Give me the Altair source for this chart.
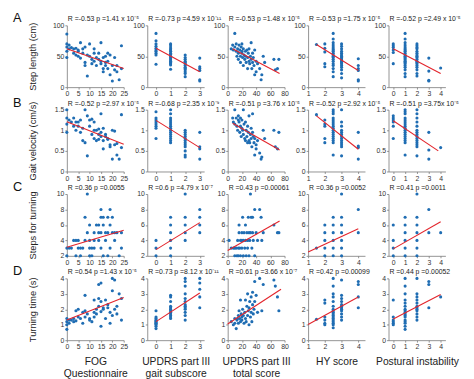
import altair as alt
import pandas as pd

FONT = "Liberation Sans"
BLUE = "#1f6db3"
RED = "#e3242b"

# ---------- column / row settings ----------
col_titles = [["FOG", "Questionnaire"], ["UPDRS part III", "gait subscore"],
              ["UPDRS part III", "total score"], ["HY score"], ["Postural instability"]]
col_domains = [[0, 25], [-0.6, 3.3], [0, 80], [1, 4.4], [-0.4, 4.4]]
col_ticks = [[0, 5, 10, 15, 20, 25], [0, 1, 2, 3], [0, 20, 40, 60, 80], [1, 2, 3, 4], [0, 1, 2, 3, 4]]

row_letters = ["A", "B", "C", "D"]
row_titles = ["Step length (cm)", "Gait velocity (cm/s)", "Steps for turning", "Turning time (s)"]
row_domains = [[0, 100], [0, 1.5], [2, 10], [0, 4]]
row_ticks = [[0, 50, 100], [0, 0.5, 1, 1.5], [2, 4, 6, 8, 10], [0, 1, 2, 3, 4]]

stats = [
    ["R =-0.53  p =1.41 x 10⁻⁵", "R =-0.73  p =4.59 x 10⁻¹¹", "R =-0.53  p =1.48 x 10⁻⁵",
     "R =-0.53  p =1.75 x 10⁻⁵", "R =-0.52  p =2.49 x 10⁻⁵"],
    ["R =-0.52  p =2.97 x 10⁻⁵", "R =-0.68  p =2.35 x 10⁻⁹", "R =-0.51  p =3.76 x 10⁻⁵",
     "R =-0.52  p =2.92 x 10⁻⁵", "R =-0.51  p =3.75x 10⁻⁵"],
    ["R =0.36  p =0.0055", "R =0.6  p =4.79 x 10⁻⁷", "R =0.43  p =0.00061",
     "R =0.36  p =0.0052", "R =0.41  p =0.0011"],
    ["R =0.54  p =1.43 x 10⁻⁵", "R =0.73  p =8.12 x 10⁻¹¹", "R =0.61  p =3.66 x 10⁻⁷",
     "R =0.42  p =0.00099", "R =0.44  p =0.00052"],
]

# ---------- Row A: step length ----------
step_fog = [(0,86),(0,70),(0,65),(0,58),(0,48),(1,68),(1,62),(2,64),(3,55),(4,63),(4,52),(5,58),(5,50),
            (6,47),(6,72),(7,62),(7,55),(8,65),(8,40),(8,35),(9,18),(9,52),(10,50),(10,70),(11,45),(11,38),
            (12,55),(12,42),(13,48),(13,35),(14,45),(14,55),(15,72),(15,42),(15,38),(16,30),(16,48),(16,25),
            (17,40),(17,35),(17,50),(18,42),(18,30),(19,52),(19,20),(20,35),(20,10),(21,28),(21,48),(22,25),
            (22,35),(23,12),(24,67),(24,30),(5,60),(3,62),(12,62),(18,55)]
step_gait = {0: [87,75,70,66,63,60,58,55,52,37],
             1: [70,68,65,62,60,58,55,53,50,48,46,44,42,40,38,36,29],
             2: [52,48,45,42,40,38,35,32,30,28,25,22,17],
             3: [47,33,30,27,12,10]}
step_total = [(5,62),(7,68),(8,60),(10,87),(10,65),(12,58),(12,70),(13,50),(14,62),(15,55),(15,45),(16,68),
              (17,60),(18,50),(18,40),(19,65),(20,55),(20,58),(20,70),(21,48),(22,62),(22,35),(23,52),(24,45),
              (25,58),(25,50),(26,40),(27,60),(28,48),(28,30),(29,55),(30,42),(30,62),(31,38),(32,50),(33,72),
              (33,45),(34,30),(35,40),(35,55),(36,48),(37,35),(38,20),(38,60),(40,42),(40,25),(42,38),(45,30),
              (47,12),(48,20),(50,50),(52,40),(65,45),(67,28),(72,45),(70,30)]
step_hy = {1.5: [69], 2: [70,63,57,38,33],
           2.5: [87,78,72,68,65,62,60,58,55,52,50,48,45,42,38,35,30,25,17],
           3: [70,66,62,58,55,52,50,48,46,44,42,40,38,35,32,28,22,15],
           4: [46,35,30,27,12,10]}
step_post = {0: [70,67,64,60,56,38],
             1: [87,78,72,68,65,62,60,58,55,52,50,48,46,44,42,40,38,35,32,28,22,17],
             2: [70,67,64,62,58,55,52,50,48,45,42,40,38,35,32,28,22,18],
             3: [47,26,11,10], 4: [31]}

# ---------- Row B: gait velocity ----------
vel_fog = [(0,1.5),(0,1.3),(0,1.15),(0,0.95),(1,1.25),(2,1.2),(3,1.1),(3,1.3),(4,1.2),(4,1.0),(5,1.2),(5,1.1),
           (6,0.95),(6,1.25),(7,1.05),(7,0.75),(8,1.5),(8,0.7),(9,1.35),(9,0.38),(10,1.25),(10,1.1),(11,1.27),
           (11,0.9),(12,1.2),(12,0.8),(13,0.75),(13,1.0),(14,0.9),(14,0.78),(15,1.4),(15,0.85),(15,0.95),
           (16,0.75),(16,1.05),(16,0.55),(17,0.85),(17,0.9),(18,0.8),(18,0.78),(19,0.6),(19,0.65),(20,1.0),
           (20,0.3),(21,0.98),(21,0.65),(22,0.4),(22,0.68),(23,0.3),(24,1.38),(24,0.58),(12,1.0),(14,1.03)]
vel_gait = {0: [1.45,1.3,1.25,1.2,1.15,1.1,1.05,0.8],
            1: [1.5,1.4,1.3,1.25,1.2,1.15,1.1,1.05,1.0,0.95,0.9,0.85,0.8,0.75,0.7],
            2: [1.0,0.95,0.9,0.85,0.8,0.75,0.7,0.65,0.6,0.5,0.4,0.35],
            3: [0.95,0.6,0.55,0.3]}
vel_total = [(7,1.3),(8,1.2),(10,1.5),(10,1.15),(12,1.3),(13,1.1),(14,1.0),(15,1.25),(15,1.35),(16,1.2),
             (17,0.95),(18,1.3),(18,1.1),(19,0.85),(20,1.25),(20,1.05),(21,1.0),(22,1.5),(22,0.9),(23,1.15),
             (24,0.8),(25,1.2),(25,0.75),(26,1.0),(27,0.85),(28,0.7),(28,1.1),(29,0.95),(30,0.75),(30,1.35),
             (31,0.7),(32,0.9),(33,1.05),(33,0.8),(34,0.6),(35,1.4),(35,0.95),(36,0.85),(37,0.7),(38,0.4),
             (38,0.8),(40,0.65),(40,0.55),(42,0.75),(45,0.45),(47,0.3),(48,0.35),(50,1.0),(52,0.8),(65,1.0),
             (67,0.6),(72,0.95),(70,0.55)]
vel_hy = {1.5: [1.38], 2: [1.25,1.15,1.1,0.8,0.7],
          2.5: [1.5,1.45,1.4,1.3,1.25,1.2,1.15,1.1,1.05,1.0,0.95,0.9,0.85,0.8,0.75,0.7,0.4],
          3: [1.5,1.2,1.1,1.0,0.95,0.9,0.85,0.8,0.75,0.7,0.65,0.6,0.38],
          4: [0.95,0.62,0.58,0.3]}
vel_post = {0: [1.35,1.3,1.25,1.2,1.1,0.8],
            1: [1.5,1.45,1.4,1.3,1.25,1.2,1.15,1.1,1.05,1.0,0.95,0.9,0.85,0.8,0.75,0.7,0.4],
            2: [1.5,1.4,1.3,1.2,1.1,1.0,0.95,0.9,0.85,0.8,0.75,0.7,0.65,0.6,0.38],
            3: [0.95,0.52,0.3], 4: [0.58]}

# ---------- Row C: steps for turning ----------
turn_fog = [(0,2),(0,3),(1,3),(2,3),(3,4),(4,4),(4,2),(5,4),(5,3),(6,2),(7,3),(8,4),(8,7),(9,10),(9,5),(10,4),
            (10,3),(10,2),(11,3),(11,2),(12,5),(12,4),(13,6),(14,6),(14,4),(14,5),(15,7),(15,8),(15,5),(15,3),
            (16,2),(16,7),(16,6),(17,5),(17,4),(18,7),(18,5),(18,2),(19,8),(19,6),(19,3),(20,7),(20,5),(21,5),
            (21,4),(22,5),(23,2),(24,5),(24,3),(10,6),(6,3),(12,3)]
turn_gait = {0: [2,3,4], 1: [2,3,4,5,6,7], 2: [4,5,6,7,10], 3: [5,6,7,8]}
turn_total = [(2,4),(5,3),(8,3),(10,2),(10,3),(12,3),(13,2),(14,4),(15,3),(15,2),(16,5),(16,6),(17,3),(18,4),
              (18,2),(20,4),(20,3),(20,5),(21,7),(22,2),(22,4),(23,5),(24,3),(25,4),(25,6),(26,2),(27,5),(28,4),
              (28,3),(29,7),(30,5),(30,2),(31,4),(32,5),(32,10),(33,7),(34,3),(35,7),(35,5),(36,4),(38,8),(38,2),
              (40,5),(42,4),(45,8),(47,7),(48,4),(50,5),(65,6),(70,5),(72,5)]
turn_hy = {1.5: [3], 2: [2,3,4,5,6], 2.5: [2,3,4,5,6,7], 3: [2,3,4,5,6,7,10], 4: [5,8]}
turn_post = {0: [2,3,4,6], 1: [2,3,4,5,6,7], 2: [2,3,4,5,6,7,10], 3: [5,8], 4: [5]}

# ---------- Row D: turning time ----------
time_fog = [(0,1.0),(0,1.2),(0,0.7),(0,1.4),(1,1.3),(1,1.1),(2,1.3),(3,1.4),(3,1.2),(4,1.9),(4,1.25),(5,2.0),
            (5,1.5),(6,1.4),(7,1.1),(7,1.8),(8,1.9),(8,2.9),(8,1.5),(10,1.4),(10,1.3),(11,1.2),(12,1.8),(12,2.6),
            (13,2.0),(13,1.7),(14,2.7),(14,3.6),(14,2.2),(15,1.85),(15,3.7),(15,0.9),(15,2.5),(16,2.1),(16,2.0),
            (17,2.6),(17,1.4),(18,2.1),(18,2.3),(19,1.8),(19,1.1),(20,4.0),(20,3.2),(20,1.6),(21,3.9),(21,2.0),
            (22,2.2),(22,1.7),(23,3.0),(24,2.7),(24,1.3),(12,1.5),(9,1.7)]
time_gait = {0: [0.75,0.9,1.0,1.05,1.1,1.15,1.2,1.25,1.3,1.4,1.5,1.9],
             1: [1.4,1.5,1.6,1.7,1.8,1.9,2.0,2.1,2.2,2.5,2.8,2.9],
             2: [1.3,1.6,1.8,2.0,2.1,2.2,2.3,2.5,2.7,3.0,3.5,3.8,4.0],
             3: [2.1,2.8,3.3,3.7,4.0]}
time_total = [(5,1.2),(8,1.0),(10,1.1),(10,1.4),(12,0.75),(13,1.3),(14,1.4),(15,1.1),(15,1.6),(16,1.9),(17,1.4),
              (18,2.6),(18,1.2),(19,1.7),(20,1.5),(20,1.3),(21,2.0),(22,1.6),(23,1.1),(24,1.8),(25,2.6),(25,1.4),
              (26,1.2),(27,2.2),(28,3.0),(28,1.6),(29,1.9),(30,2.1),(30,1.0),(31,2.5),(32,1.5),(33,2.8),(33,1.8),
              (34,1.2),(35,3.1),(35,2.3),(36,1.7),(37,2.0),(38,3.8),(38,2.5),(40,2.9),(42,1.8),(45,4.0),(48,1.9),
              (50,3.6),(65,3.9),(67,3.5),(70,2.8),(72,1.9)]
time_hy = {1.5: [1.35], 2: [1.0,1.1,1.3,1.5,2.4,2.6],
           2.5: [0.8,1.0,1.1,1.2,1.3,1.4,1.5,1.6,1.7,1.8,1.9,2.0,2.2,2.5,2.8,3.0,3.5,4.0],
           3: [1.3,1.5,1.7,1.9,2.0,2.1,2.2,2.3,2.5,2.7,2.9,3.9],
           4: [2.1,2.8,3.6,3.8]}
time_post = {0: [1.0,1.1,1.2,1.3,1.5,2.6],
             1: [0.7,0.9,1.1,1.2,1.3,1.5,1.6,1.7,1.8,1.9,2.0,2.2,2.4,2.6,3.0,3.5,4.0],
             2: [1.3,1.5,1.7,1.9,2.0,2.1,2.2,2.4,2.6,2.8,3.0,4.0],
             3: [2.1,3.6,3.8], 4: [2.8]}

# ---------- regression lines (end points) ----------
fits = [
    [[(0,62),(25,30)], [(0,63),(3,25)], [(7,62),(73,22)], [(1.5,69),(4,27)], [(0,62),(4,22)]],
    [[(0,1.21),(25,0.66)], [(0,1.24),(3,0.58)], [(7,1.17),(73,0.52)], [(1.5,1.35),(4,0.54)], [(0,1.23),(3.8,0.5)]],
    [[(0,3.1),(25,5.3)], [(0,2.8),(3,6.3)], [(0,2.7),(73,6.5)], [(1,2.5),(4,5.5)], [(0,2.9),(4,6.4)]],
    [[(0,1.3),(25,2.77)], [(0,1.2),(3,3.05)], [(0,1.05),(75,3.3)], [(1,1.02),(4,2.8)], [(0,1.37),(4,2.96)]],
]

panels_data = [
    [step_fog, step_gait, step_total, step_hy, step_post],
    [vel_fog, vel_gait, vel_total, vel_hy, vel_post],
    [turn_fog, turn_gait, turn_total, turn_hy, turn_post],
    [time_fog, time_gait, time_total, time_hy, time_post],
]


def to_df(d):
    if isinstance(d, dict):
        rows = [(x, y) for x, ys in d.items() for y in ys]
    else:
        rows = list(d)
    return pd.DataFrame(rows, columns=["x", "y"])


W, H = 58, 63


def panel(r, c):
    pts = to_df(panels_data[r][c])
    fit = pd.DataFrame(fits[r][c], columns=["x", "y"])
    xs = alt.Scale(domain=col_domains[c], nice=False, zero=False)
    ys = alt.Scale(domain=row_domains[r], nice=False, zero=False)

    common = dict(labelExpr="'' + datum.value", labelOverlap=False, labelFlush=False,
                  labelSeparation=0)
    xkw = dict(values=col_ticks[c], title=None, **common)
    if r == 3:
        xkw = dict(values=col_ticks[c], title=col_titles[c], titleFontSize=10.5,
                   titleFont=FONT, titleFontWeight="normal", titleColor="#222",
                   titleLineHeight=12.5, titleY=17, titleBaseline="top", **common)
    ykw = dict(values=row_ticks[r], title=None, **common)
    if c == 0:
        ykw = dict(values=row_ticks[r], title=row_titles[r], titleFontSize=9.5,
                   titleFont=FONT, titleFontWeight="normal", titleColor="#222",
                   titleX=-35, titleY=H / 2, titleBaseline="middle", titleAlign="center", **common)
    xaxis = alt.Axis(**xkw)
    yaxis = alt.Axis(**ykw)

    pts_layer = alt.Chart(pts).mark_circle(size=10, color=BLUE, opacity=1).encode(
        x=alt.X("x:Q", scale=xs, axis=xaxis),
        y=alt.Y("y:Q", scale=ys, axis=yaxis),
    )
    line_layer = alt.Chart(fit).mark_line(color=RED, strokeWidth=1.1).encode(
        x=alt.X("x:Q", scale=xs, axis=xaxis), y=alt.Y("y:Q", scale=ys, axis=yaxis))
    stat_layer = alt.Chart(pd.DataFrame({"t": [stats[r][c]]})).mark_text(
        font=FONT, fontSize=7, align="left", baseline="alphabetic", color="#222"
    ).encode(x=alt.value(1), y=alt.value(-4), text="t:N")
    layers = [pts_layer, line_layer, stat_layer]
    if c == 0:
        lt = alt.Chart(pd.DataFrame({"t": [row_letters[r]]})).mark_text(
            font=FONT, fontSize=13, align="left", baseline="alphabetic", color="#111"
        ).encode(x=alt.value(-55), y=alt.value(-3), text="t:N")
        layers.append(lt)
    return alt.layer(*layers).properties(width=W, height=H)


chart = alt.concat(*[panel(r, c) for r in range(4) for c in range(5)], columns=5,
                   spacing={"row": 23, "column": 24}, bounds="flush").properties(
    padding={"left": 4, "top": 0, "right": 2, "bottom": 0}
).configure_view(stroke="transparent").configure_axis(
    grid=False, domainColor="#777", tickColor="#777", labelColor="#333", labelFont=FONT,
    labelFontSize=7, tickSize=2, labelPadding=1, domainWidth=0.8, tickWidth=0.8,
    labelOverlap=False,
)

chart.save("out.html", embed_options={"renderer": "svg", "actions": False})
